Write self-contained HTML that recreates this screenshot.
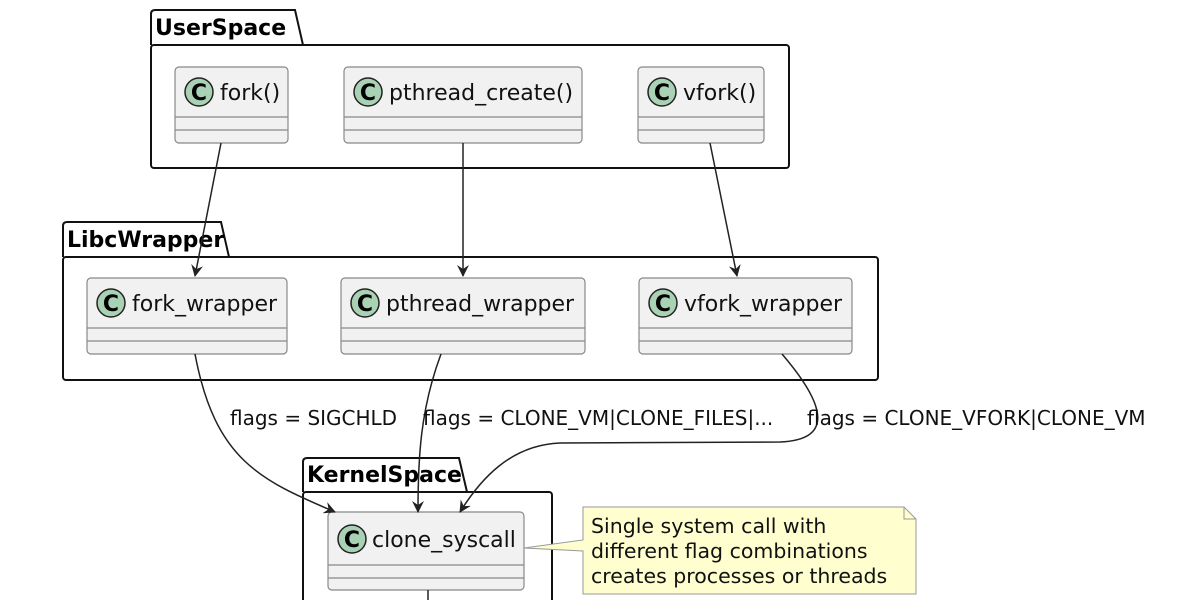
<!DOCTYPE html>
<html><head><meta charset="utf-8"><style>body{margin:0;background:#fff}svg{display:block}text{font-family:"DejaVu Sans","Liberation Sans",sans-serif}</style></head>
<body>
<svg width="1200" height="600" viewBox="0 0 1200 600" xmlns="http://www.w3.org/2000/svg">
<defs>
<marker id="ah" markerWidth="14" markerHeight="14" refX="11" refY="6" orient="auto" markerUnits="userSpaceOnUse">
<path d="M0,0 L12,6 L0,12 L4,6 Z" fill="#222"/>
</marker>
<g id="c"><circle r="14" fill="#a9d1b4" stroke="#222" stroke-width="1.5"/><text x="0" y="8" text-anchor="middle" font-size="22" font-weight="bold" fill="#000">C</text></g>
</defs>
<g fill="#fff" stroke="#111" stroke-width="2">
<path d="M151,45 L151,14 Q151,10 155,10 L295,10 L303,45"/>
<rect x="151" y="45" width="638" height="123" rx="3"/>
<path d="M63,257 L63,226 Q63,222 67,222 L221,222 L229,257"/>
<rect x="63" y="257" width="815" height="123" rx="3"/>
<path d="M303,492 L303,462 Q303,458 307,458 L459,458 L467,492"/>
<rect x="303" y="492" width="249" height="120" rx="3"/>
</g>
<g font-weight="bold" font-size="22" fill="#000">
<text x="155" y="35">UserSpace</text>
<text x="67" y="247">LibcWrapper</text>
<text x="307" y="482">KernelSpace</text>
</g>
<g fill="#f1f1f1" stroke="#888" stroke-width="1.2">
<rect x="175" y="67" width="113" height="76" rx="4"/><path d="M175,117H288M175,130H288"/>
<rect x="344" y="67" width="238" height="76" rx="4"/><path d="M344,117H582M344,130H582"/>
<rect x="638" y="67" width="126" height="76" rx="4"/><path d="M638,117H764M638,130H764"/>
<rect x="87" y="278" width="200" height="76" rx="4"/><path d="M87,328H287M87,341H287"/>
<rect x="341" y="278" width="244" height="76" rx="4"/><path d="M341,328H585M341,341H585"/>
<rect x="639" y="278" width="213" height="76" rx="4"/><path d="M639,328H852M639,341H852"/>
<rect x="328" y="512" width="196" height="78" rx="4"/><path d="M328,565H524M328,578H524"/>
</g>
<use href="#c" x="199" y="92"/><use href="#c" x="368" y="92"/><use href="#c" x="662" y="92"/>
<use href="#c" x="111" y="303"/><use href="#c" x="365" y="303"/><use href="#c" x="663" y="303"/>
<use href="#c" x="352" y="539"/>
<g font-size="22" fill="#111">
<text x="220" y="100">fork()</text>
<text x="389" y="100">pthread_create()</text>
<text x="683" y="100">vfork()</text>
<text x="132" y="311">fork_wrapper</text>
<text x="386" y="311">pthread_wrapper</text>
<text x="684" y="311">vfork_wrapper</text>
<text x="372" y="547">clone_syscall</text>
</g>
<path d="M583,507 H904 L916,519 V594 H583 V551 L524,548 L583,540 Z" fill="#fefece" stroke="#999" stroke-width="1"/>
<path d="M904,507 V519 H916" fill="none" stroke="#999"/>
<g font-size="20.5" fill="#111">
<text x="591" y="533">Single system call with</text>
<text x="591" y="558">different flag combinations</text>
<text x="591" y="583">creates processes or threads</text>
</g>
<g fill="none" stroke="#222" stroke-width="1.5" marker-end="url(#ah)">
<path d="M221,143 L195,276"/>
<path d="M463,143 L463,276"/>
<path d="M710,143 L737,276"/>
<path d="M195,354 C215,460 260,480 335,512"/>
<path d="M441,354 C420,410 418,460 418,512"/>
<path d="M782,354 C830,410 830,440 780,442 L560,443 C510,445 480,480 460,512"/>
</g>
<path d="M428,590 V600" stroke="#222" stroke-width="1.5"/>
<g font-size="20" fill="#111">
<text x="230" y="425">flags = SIGCHLD</text>
<text x="423" y="425">flags = CLONE_VM|CLONE_FILES|...</text>
<text x="807" y="425">flags = CLONE_VFORK|CLONE_VM</text>
</g>
</svg>
</body></html>
